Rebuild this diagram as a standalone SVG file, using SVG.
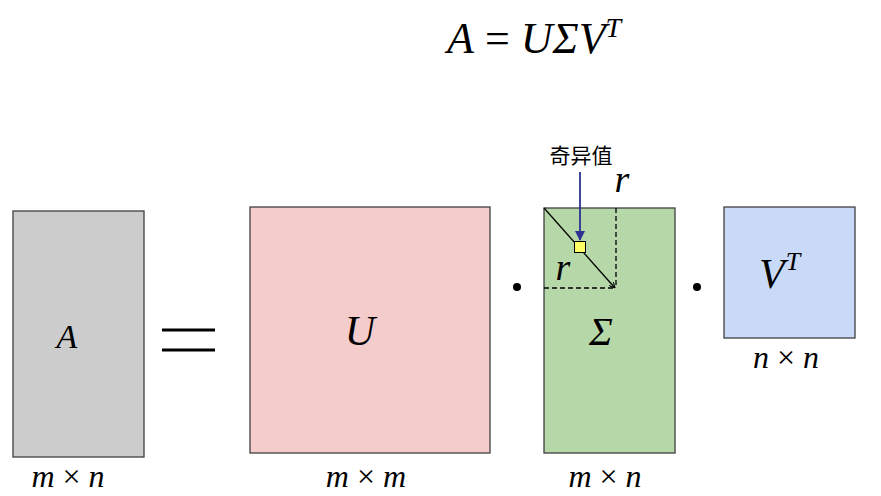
<svg xmlns="http://www.w3.org/2000/svg" width="881" height="496" viewBox="0 0 881 496">
<defs>
<style>
.m{font-family:"Liberation Serif","DejaVu Serif",serif;font-style:italic;fill:#000}
.box{stroke:#404040;stroke-width:1.3}
.cjk{font-family:"Noto Sans CJK SC","Noto Sans",sans-serif;fill:#000}
</style>
<marker id="blueHead" markerWidth="10" markerHeight="10" refX="9" refY="5" orient="auto" markerUnits="userSpaceOnUse"><path d="M0,0 L10,5 L0,10 z" fill="#2E3192"/></marker>
<marker id="blkHead" markerWidth="6" markerHeight="6" refX="6" refY="3" orient="auto" markerUnits="userSpaceOnUse"><path d="M0,0 L6,3 L0,6" fill="none" stroke="#000" stroke-width="1"/></marker>
</defs>
<rect width="881" height="496" fill="#fff"/>
<g id="title">
<text class="m" x="447" y="53" font-size="44">A<tspan font-style="normal"> = </tspan>UΣV<tspan font-size="28" dy="-16" dx="0">T</tspan></text>
</g>
<g id="matA">
<rect class="box" x="13" y="211" width="131" height="246" fill="#CCCCCC"/>
<text class="m" x="67" y="348" font-size="34" text-anchor="middle">A</text>
<text class="m" x="68" y="487" font-size="32" text-anchor="middle">m<tspan font-style="normal"> × </tspan>n</text>
</g>
<g id="equals">
<line x1="162" y1="330" x2="215" y2="330" stroke="#000" stroke-width="3"/>
<line x1="162" y1="350" x2="215" y2="350" stroke="#000" stroke-width="3"/>
</g>
<g id="matU">
<rect class="box" x="250" y="207" width="240" height="246" fill="#F4CCCC"/>
<text class="m" x="360" y="345" font-size="42" text-anchor="middle">U</text>
<text class="m" x="366" y="487" font-size="32" text-anchor="middle">m<tspan font-style="normal"> × </tspan>m</text>
</g>
<g id="dot1"><circle cx="517" cy="287" r="4" fill="#000"/></g>
<g id="matSigma">
<rect class="box" x="544" y="208" width="131" height="245" fill="#B6D7A8"/>
<line x1="616" y1="208" x2="616" y2="288" stroke="#000" stroke-width="1.3" stroke-dasharray="5,3"/>
<line x1="544" y1="288" x2="616" y2="288" stroke="#000" stroke-width="1.3" stroke-dasharray="5,3"/>
<text class="m" x="601" y="345" font-size="40" text-anchor="middle">Σ</text>
<text class="m" x="605" y="487" font-size="32" text-anchor="middle">m<tspan font-style="normal"> × </tspan>n</text>
</g>
<g id="dot2"><circle cx="697" cy="287" r="4" fill="#000"/></g>
<g id="matV">
<rect class="box" x="724" y="207" width="131" height="131" fill="#C9DAF8"/>
<text class="m" x="759" y="288" font-size="42">V<tspan font-size="26" dy="-18" dx="1">T</tspan></text>
<text class="m" x="786" y="368" font-size="32" text-anchor="middle">n<tspan font-style="normal"> × </tspan>n</text>
</g>
<g id="labels">
<text class="m" x="622" y="192" font-size="38" text-anchor="middle">r</text>
<text class="m" x="563" y="280" font-size="38" text-anchor="middle">r</text>
<text class="cjk" x="581" y="163" font-size="21" text-anchor="middle">奇异值</text>
</g>
<g id="connectors">
<line x1="544" y1="208" x2="615" y2="288" stroke="#000" stroke-width="1.3" marker-end="url(#blkHead)"/>
<line x1="580" y1="172" x2="580" y2="240" stroke="#2E3192" stroke-width="1.8" marker-end="url(#blueHead)"/>
</g>
<g id="singular">
<rect x="574.5" y="241.5" width="11" height="11" fill="#FFFF66" stroke="#000" stroke-width="1"/>
</g>
</svg>
